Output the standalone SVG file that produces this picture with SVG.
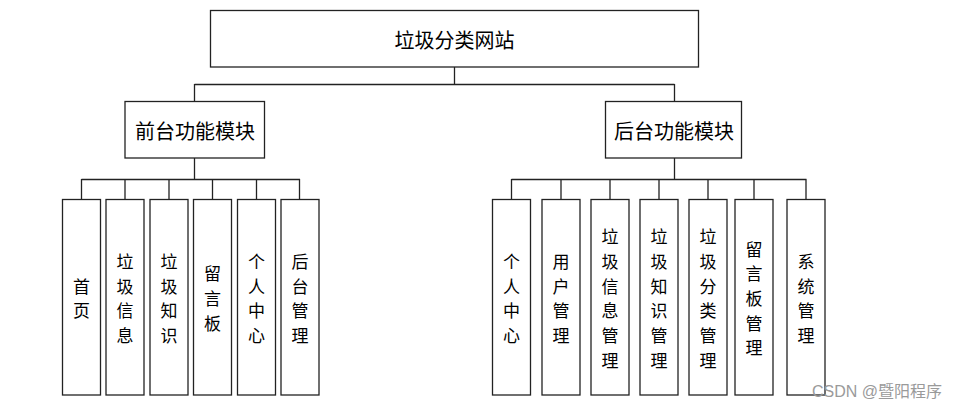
<svg xmlns="http://www.w3.org/2000/svg" width="962" height="410" viewBox="0 0 962 410">
<style>
.box{fill:#fff;stroke:#222;stroke-width:1.3}
.ln{fill:none;stroke:#222;stroke-width:1.3}
text{font-family:"Noto Sans CJK SC","Noto Sans CJK JP",sans-serif;fill:#000;text-anchor:middle;dominant-baseline:central}
.big{font-size:20px}
.leaf{font-size:17px}
.wm{font-family:"Liberation Sans","Noto Sans CJK SC",sans-serif;font-size:16px;fill:#9a9a9a;text-anchor:start;dominant-baseline:alphabetic}
</style>
<rect width="962" height="410" fill="#fff"/>
<g id="connectors">
<path class="ln" d="M454.5,67V84.5M194.5,84.5H674.5M194.5,84V101.5M674.5,84V101.5"/>
<path class="ln" d="M194.5,158V179.5M81.5,179.5H300M81.5,179V199M125,179V199M169,179V199M212.5,179V199M256.5,179V199M299.5,179V199"/>
<path class="ln" d="M674.5,158V179.5M511.5,179.5H806.5M511.5,179V199M561,179V199M610,179V199M659,179V199M708,179V199M754,179V199M806,179V199"/>
</g>
<g id="root"><rect class="box" x="210.5" y="10.5" width="488" height="56.5"/><text class="big" x="454.5" y="39">垃圾分类网站</text></g>
<g id="front"><rect class="box" x="125" y="101.5" width="139.5" height="56.5"/><text class="big" x="195" y="130">前台功能模块</text></g>
<g id="back"><rect class="box" x="605.5" y="101.5" width="136" height="56.5"/><text class="big" x="674" y="130">后台功能模块</text></g>
<g id="f1"><rect class="box" x="62.5" y="199.5" width="38" height="195.5"/><text class="leaf"><tspan x="81.5" y="284.6">首</tspan><tspan x="81.5" y="309.4">页</tspan></text></g>
<g id="f2"><rect class="box" x="106" y="199.5" width="38" height="195.5"/><text class="leaf"><tspan x="125" y="260">垃</tspan><tspan x="125" y="284.6">圾</tspan><tspan x="125" y="309.4">信</tspan><tspan x="125" y="334">息</tspan></text></g>
<g id="f3"><rect class="box" x="150" y="199.5" width="38" height="195.5"/><text class="leaf"><tspan x="169" y="260">垃</tspan><tspan x="169" y="284.6">圾</tspan><tspan x="169" y="309.4">知</tspan><tspan x="169" y="334">识</tspan></text></g>
<g id="f4"><rect class="box" x="193.5" y="199.5" width="38" height="195.5"/><text class="leaf"><tspan x="212.5" y="272.3">留</tspan><tspan x="212.5" y="297">言</tspan><tspan x="212.5" y="321.7">板</tspan></text></g>
<g id="f5"><rect class="box" x="237.5" y="199.5" width="38" height="195.5"/><text class="leaf"><tspan x="256.5" y="260">个</tspan><tspan x="256.5" y="284.6">人</tspan><tspan x="256.5" y="309.4">中</tspan><tspan x="256.5" y="334">心</tspan></text></g>
<g id="f6"><rect class="box" x="281" y="199.5" width="38" height="195.5"/><text class="leaf"><tspan x="300" y="260">后</tspan><tspan x="300" y="284.6">台</tspan><tspan x="300" y="309.4">管</tspan><tspan x="300" y="334">理</tspan></text></g>
<g id="b1"><rect class="box" x="492.5" y="199.5" width="38" height="195.5"/><text class="leaf"><tspan x="511.5" y="260">个</tspan><tspan x="511.5" y="284.6">人</tspan><tspan x="511.5" y="309.4">中</tspan><tspan x="511.5" y="334">心</tspan></text></g>
<g id="b2"><rect class="box" x="542" y="199.5" width="38" height="195.5"/><text class="leaf"><tspan x="561" y="260">用</tspan><tspan x="561" y="284.6">户</tspan><tspan x="561" y="309.4">管</tspan><tspan x="561" y="334">理</tspan></text></g>
<g id="b3"><rect class="box" x="591" y="199.5" width="38" height="195.5"/><text class="leaf"><tspan x="610" y="235.3">垃</tspan><tspan x="610" y="260">圾</tspan><tspan x="610" y="284.6">信</tspan><tspan x="610" y="309.4">息</tspan><tspan x="610" y="334">管</tspan><tspan x="610" y="358.7">理</tspan></text></g>
<g id="b4"><rect class="box" x="640" y="199.5" width="38" height="195.5"/><text class="leaf"><tspan x="659" y="235.3">垃</tspan><tspan x="659" y="260">圾</tspan><tspan x="659" y="284.6">知</tspan><tspan x="659" y="309.4">识</tspan><tspan x="659" y="334">管</tspan><tspan x="659" y="358.7">理</tspan></text></g>
<g id="b5"><rect class="box" x="689" y="199.5" width="38" height="195.5"/><text class="leaf"><tspan x="708" y="235.3">垃</tspan><tspan x="708" y="260">圾</tspan><tspan x="708" y="284.6">分</tspan><tspan x="708" y="309.4">类</tspan><tspan x="708" y="334">管</tspan><tspan x="708" y="358.7">理</tspan></text></g>
<g id="b6"><rect class="box" x="735" y="199.5" width="38" height="195.5"/><text class="leaf"><tspan x="754" y="247.6">留</tspan><tspan x="754" y="272.3">言</tspan><tspan x="754" y="297">板</tspan><tspan x="754" y="321.7">管</tspan><tspan x="754" y="346.4">理</tspan></text></g>
<g id="b7"><rect class="box" x="787" y="199.5" width="38" height="195.5"/><text class="leaf"><tspan x="806" y="260">系</tspan><tspan x="806" y="284.6">统</tspan><tspan x="806" y="309.4">管</tspan><tspan x="806" y="334">理</tspan></text></g>
<text class="wm" x="812" y="397">CSDN @暨阳程序</text>
</svg>
